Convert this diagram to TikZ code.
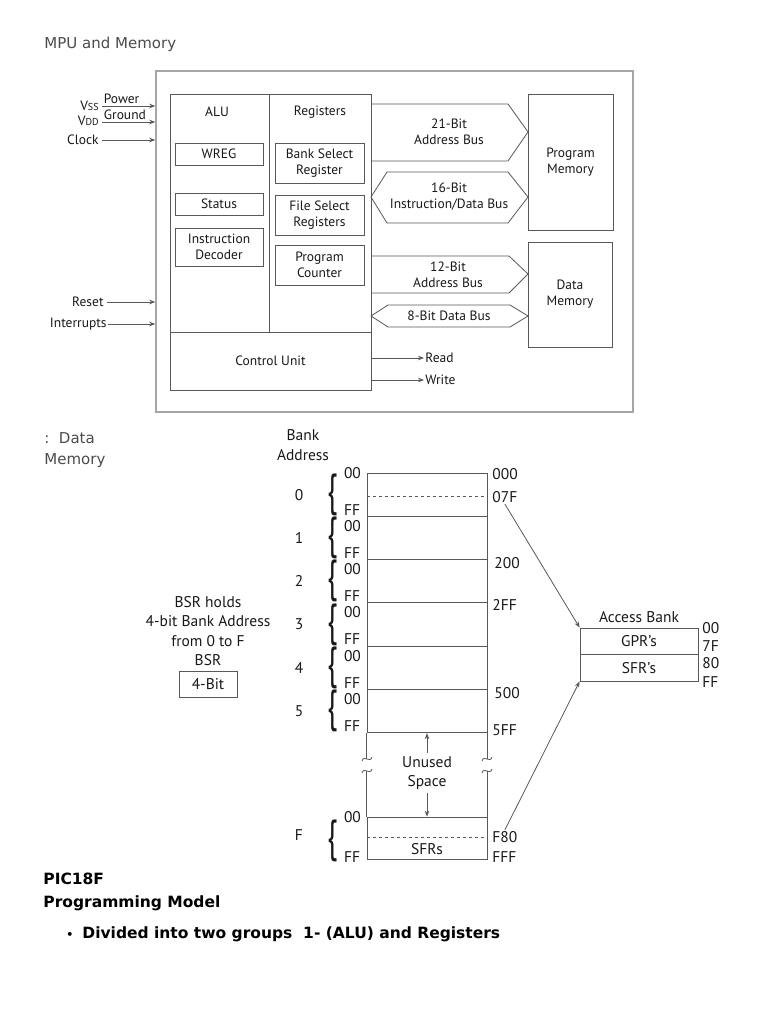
\documentclass[tikz,border=0pt]{standalone}
\usepackage{fontspec}
\setmainfont{PT Sans}
\newfontfamily\verd{DejaVu Sans}
\usepackage{graphicx}
\usepackage{tikz}
\usetikzlibrary{shapes,positioning,arrows.meta}
\tikzset{box/.style={rectangle,draw=black!65,line width=0.8pt,inner sep=0pt,align=center,text=black!90,font=\fontsize{13.5}{16}\selectfont},
  mbox/.style={box,font=\fontsize{15.5}{19.5}\selectfont},
  lbl/.style={inner sep=1pt,align=center,text=black!90,font=\fontsize{13.5}{16}\selectfont},
  mlbl/.style={inner sep=1pt,align=center,text=black!90,font=\fontsize{15.5}{19.3}\selectfont},
  bus/.style={draw=black!65,line width=0.8pt},
  dsh/.style={dashed,draw=black!65,line width=0.8pt},
  brc/.style={inner sep=0pt,text=black!90,font=\fontsize{30}{30}\selectfont},
  note/.style={inner sep=0pt,anchor=west,text=black!70,font=\verd\fontsize{15}{18}\selectfont},
  head/.style={inner sep=0pt,anchor=west,text=black,font=\verd\bfseries\fontsize{15.5}{18}\selectfont}}
\newcommand{\lbrc}{\scalebox{1}[1.5]{\{}}

\begin{document}
\begin{tikzpicture}[>={Stealth[length=6pt,width=4.5pt]},x=1pt,y=-1pt,line width=0.8pt,draw=black!65]
    \fill[white] (0,0) rectangle (768,1024);
    \useasboundingbox (0,0) rectangle (768,1024);

    % MPU and memory
    \node[note] (title) at (44,44) {MPU and Memory};
    \node[box,draw=black!35,line width=1.5pt,minimum width=477pt,minimum height=341pt] (mpu) at (394.5,241.5) {};
    \node[box,minimum width=99pt,minimum height=238pt] (alu) at (219.5,213) {};
    \node[box,minimum width=102pt,minimum height=238pt] (regs) at (320,213) {};
    \node[box,minimum width=201pt,minimum height=58pt] (cu) at (270.5,361) {Control Unit};
    \node[lbl] (alut) at (217,112) {ALU};
    \node[lbl] (regt) at (320,112) {Registers};
    \node[box,minimum width=88pt,minimum height=22pt] (wreg) at (219,154) {WREG};
    \node[box,minimum width=88pt,minimum height=22pt] (stat) at (219,204) {Status};
    \node[box,minimum width=88pt,minimum height=38pt] (idec) at (219,247) {Instruction\\Decoder};
    \node[box,minimum width=89pt,minimum height=40pt] (bsr) at (319.5,163) {Bank Select\\Register};
    \node[box,minimum width=89pt,minimum height=40pt] (fsr) at (319.5,215) {File Select\\Registers};
    \node[box,minimum width=89pt,minimum height=40pt] (pc) at (319.5,265) {Program\\Counter};
    \node[box,minimum width=85pt,minimum height=136pt] (pmem) at (570.5,162) {Program\\Memory};
    \node[box,minimum width=84pt,minimum height=105pt] (dmem) at (570,294.5) {Data\\Memory};

    % buses
    \draw[bus] (371,104) -- (508,104) -- (528,132) -- (508,161) -- (371,161);
    \draw[bus] (371,197) -- (387,172) -- (508,172) -- (528,197) -- (508,223) -- (387,223) -- cycle;
    \draw[bus] (371,256) -- (509,256) -- (528,274) -- (509,293) -- (371,293);
    \draw[bus] (371,316) -- (388,305) -- (510,305) -- (528,316) -- (510,327) -- (388,327) -- cycle;
    \node[lbl] (ab21) at (449,132) {21-Bit\\Address Bus};
    \node[lbl] (db16) at (449,197) {16-Bit\\Instruction/Data Bus};
    \node[lbl] (ab12) at (448,275) {12-Bit\\Address Bus};
    \node[lbl] (db8) at (449,316) {8-Bit Data Bus};

    \node[lbl,anchor=west] (rd) at (424,358) {Read};
    \node[lbl,anchor=west] (wr) at (424,380) {Write};
    \draw[->] (cu.east |- rd.west) -- (rd.west);
    \draw[->] (cu.east |- wr.west) -- (wr.west);

    % inputs
    \node[lbl,anchor=east] (vss) at (100,106) {V{\fontsize{10}{12}\selectfont SS}};
    \node[lbl,anchor=east] (vdd) at (100,121) {V{\fontsize{10}{12}\selectfont DD}};
    \coordinate (pin) at (102,106);
    \coordinate (gin) at (102,122);
    \node[lbl,anchor=south west,inner sep=1.5pt] (pwr) at (pin) {Power};
    \node[lbl,anchor=south west,inner sep=1.5pt] (gnd) at (gin) {Ground};
    \draw[->] (pin) -- (pin -| mpu.west);
    \draw[->] (gin) -- (gin -| mpu.west);
    \node[lbl,anchor=east] (clk) at (100,140) {Clock};
    \draw[->] ([xshift=2pt]clk.east) -- (clk.east -| mpu.west);
    \node[lbl,anchor=east] (rst) at (105,302) {Reset};
    \draw[->] ([xshift=2pt]rst.east) -- (rst.east -| mpu.west);
    \node[lbl,anchor=east] (intr) at (108,324) {Interrupts};
    \draw[->] (intr.east) -- (intr.east -| mpu.west);

    % data memory map
    \node[note] (dm1) at (44,438) {:~~Data};
    \node[note] (dm2) at (44,461) {Memory};
    \node[mlbl] (bankt) at (303,445) {Bank\\Address};

    \foreach \i/\o in {0/1,1/10,2/10,3/10,4/10,5/10} {
        \node[mbox,minimum width=120pt,minimum height=43.3pt] (b\i) at (427,494.6+43.3*\i) {};
        \node[mlbl] (n\i) at (299,494.6+43.3*\i) {\i};
        \node[brc] (br\i) at (333,494.6+43.3*\i) {\lbrc};
        \node[mlbl,anchor=west] (lo\i) at ([xshift=-24pt,yshift=-\o pt]b\i.north west) {00};
        \node[mlbl,anchor=west] (hi\i) at ([xshift=-24pt,yshift=7pt]b\i.south west) {FF};
    }
    \node[mbox,minimum width=120pt,minimum height=42pt] (bF) at (427,838) {};
    \node[mlbl] (nF) at (299,835) {F};
    \node[brc] (brF) at (333,841) {\lbrc};
    \node[mlbl,anchor=west] (loF) at ([xshift=-24pt]bF.north west) {00};
    \node[mlbl,anchor=west] (hiF) at ([xshift=-24pt,yshift=2pt]bF.south west) {FF};
    \node[mlbl] (sfrs) at (427,849) {SFRs};
    \draw[dsh] ([yshift=-1.4pt]b0.west) -- ([yshift=-1.4pt]b0.east);
    \draw[dsh] ([yshift=1pt]bF.west) -- ([yshift=1pt]bF.east);

    % unused space
    \draw (b5.south west) -- ([yshift=-26pt]b5.south west);
    \draw (b5.south east) -- ([yshift=-26pt]b5.south east);
    \draw ([yshift=46pt]bF.north west) -- (bF.north west);
    \draw ([yshift=46pt]bF.north east) -- (bF.north east);
    \foreach \x in {367,487}
        \foreach \y in {759,771}
            \draw (\x-5,\y+2) .. controls (\x-3,\y-5) and (\x+3,\y+5) .. (\x+5,\y-2);
    \node[mlbl,inner sep=3pt] (unu) at (427,773) {Unused\\Space};
    \draw[->] (unu.north) -- (b5.south);
    \draw[->] (unu.south) -- (bF.north);

    % addresses
    \node[mlbl,anchor=west] (a000) at (491,474) {000};
    \node[mlbl,anchor=west] (a07f) at (491,497) {07F};
    \node[mlbl,anchor=west] (a200) at (493,563) {200};
    \node[mlbl,anchor=west] (a2ff) at (491,605) {2FF};
    \node[mlbl,anchor=west] (a500) at (493,693) {500};
    \node[mlbl,anchor=west] (a5ff) at (491,730) {5FF};
    \node[mlbl,anchor=west] (af80) at (491,837) {F80};
    \node[mlbl,anchor=west] (afff) at (491,857) {FFF};

    % access bank
    \node[mbox,minimum width=118pt,minimum height=26.5pt] (gpr) at (639,641.2) {GPR’s};
    \node[mbox,minimum width=118pt,minimum height=26.5pt] (sfr) at (639,667.8) {SFR’s};
    \node[mlbl,anchor=base] (acc) at (639,622) {Access Bank};
    \node[mlbl,anchor=west] (g00) at (701,628) {00};
    \node[mlbl,anchor=west] (g7f) at (701,646) {7F};
    \node[mlbl,anchor=west] (s80) at (701,663) {80};
    \node[mlbl,anchor=west] (sff) at (701,682) {FF};
    \draw[->] (a07f.south) -- (gpr.north west);
    \draw[->] (af80.north) -- (sfr.south west);

    % BSR
    \node[mlbl] (bsrt) at (208,631) {BSR holds\\4-bit Bank Address\\from 0 to F\\BSR};
    \node[mbox,minimum width=58pt,minimum height=26pt] (bsrb) at (208,684) {4-Bit};

    % text below
    \node[head] (h1) at (43,879) {PIC18F};
    \node[head] (h2) at (43,903) {Programming Model};
    \node[head] (h3) at (66,934) {{\fontsize{11}{11}\selectfont •}\hspace{9pt}Divided into two groups\ \ 1- (ALU) and Registers};
\end{tikzpicture}
\end{document}
